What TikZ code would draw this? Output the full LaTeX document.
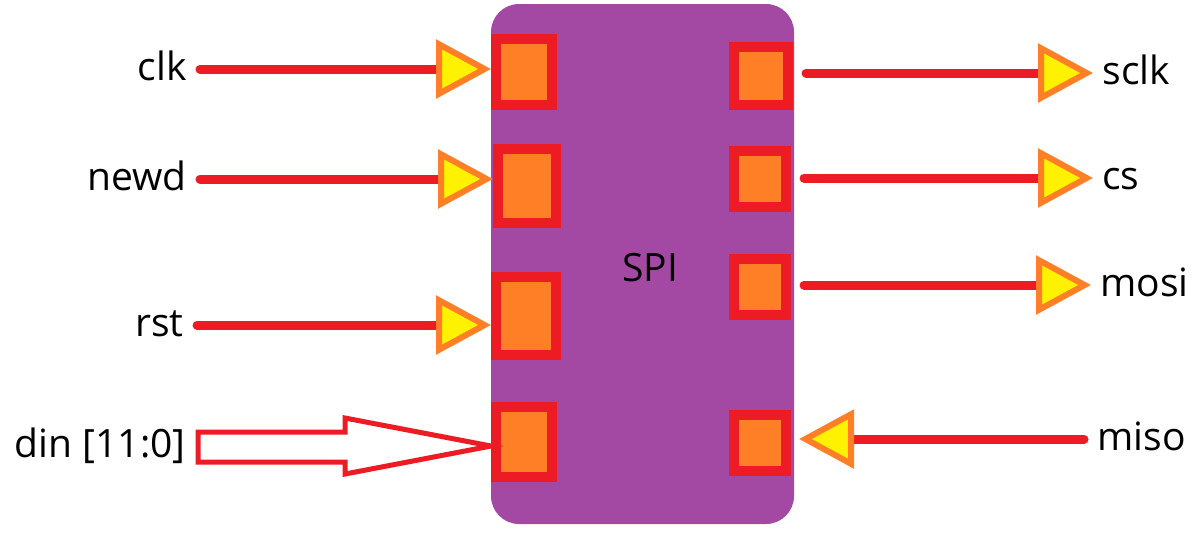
\documentclass[tikz,border=0pt]{standalone}
\usepackage{fontspec}
\setmainfont{Open Sans}
\usetikzlibrary{arrows.meta}
\definecolor{paintPurple}{RGB}{163, 73, 164}
\definecolor{paintRed}{RGB}{237, 28, 36}
\definecolor{paintOrange}{RGB}{255, 127, 39}
\definecolor{paintYellow}{RGB}{255, 242, 0}
\colorlet{body color}{paintPurple}
\colorlet{wire color}{paintRed}
\tikzset{
    body/.style={fill=body color, rounded corners=14pt, inner sep=0pt,
        minimum width=151.5pt, minimum height=260pt},
    pin/.style={draw=wire color, fill=paintOrange, line width=5pt, inner sep=0pt},
    signal/.style={inner sep=0pt, text height=11pt, text depth=0pt},
    wire/.style={draw=wire color, line width=4.5pt, line cap=round, shorten <=6.5pt,
        -{Triangle[length=27.5pt, width=29pt, line width=3pt, fill=paintYellow, color=paintOrange]}},
    bus/.style={draw=wire color, line width=2.5pt, line join=miter, fill=white}
}

\begin{document}
\begin{tikzpicture}[x=0.5pt, y=-0.5pt, font=\fontsize{19.5pt}{23pt}\selectfont]
    \useasboundingbox (0,0) rectangle (1202,537);

    % Draw the SPI block
    \node[body] (spi) at (642.5,264) {};
    \node[anchor=base] (spitext) at (650,281) {SPI};

    % Pins on the left side
    \node[pin, minimum width=28pt, minimum height=33pt] (pclk) at (524,72) {};
    \node[pin, minimum width=29pt, minimum height=37pt] (pnewd) at (527,186) {};
    \node[pin, minimum width=30pt, minimum height=39pt] (prst) at (526,316) {};
    \node[pin, minimum width=28pt, minimum height=35pt] (pdin) at (524,442) {};

    % Pins on the right side
    \node[pin, minimum width=27pt, minimum height=29pt] (psclk) at (761,76) {};
    \node[pin, minimum width=26pt, minimum height=28pt] (pcs) at (760,179) {};
    \node[pin, minimum width=26pt, minimum height=28pt] (pmosi) at (760,287) {};
    \node[pin, minimum width=26pt, minimum height=28pt] (pmiso) at (760,443) {};

    % Signal names
    \node[signal, anchor=east] (clk) at (187,69) {clk};
    \node[signal, anchor=east] (newd) at (187,179) {newd};
    \node[signal, anchor=east] (rst) at (184,325) {rst};
    \node[signal, anchor=east] (din) at (186,446) {din [11:0]};
    \node[signal, anchor=west] (sclk) at (1102,73) {sclk};
    \node[signal, anchor=west] (cs) at (1102,178) {cs};
    \node[signal, anchor=west] (mosi) at (1100,285) {mosi};
    \node[signal, anchor=west] (miso) at (1097,439) {miso};

    % Inputs
    \draw[wire] (clk.east) -- (pclk.west |- clk.east);
    \draw[wire] (newd.east) -- (pnewd.west |- newd.east);
    \draw[wire] (rst.east) -- (prst.west |- rst.east);
    \draw[bus] (din.east) ++(12,-14) -- ++(147,0) -- ++(0,-14)
        -- (pdin.west |- din.east) -- ++(-146,28) -- ++(0,-12) -- ++(-147,0) -- cycle;

    % Outputs
    \draw[wire, shorten >=4.5pt] (psclk.east |- sclk.west) -- (sclk.west);
    \draw[wire, shorten >=4.5pt] (pcs.east |- cs.west) -- (cs.west);
    \draw[wire, shorten >=4.5pt] (pmosi.east |- mosi.west) -- (mosi.west);
    \draw[wire, shorten >=4pt] (miso.west) -- (pmiso.east |- miso.west);
\end{tikzpicture}
\end{document}
